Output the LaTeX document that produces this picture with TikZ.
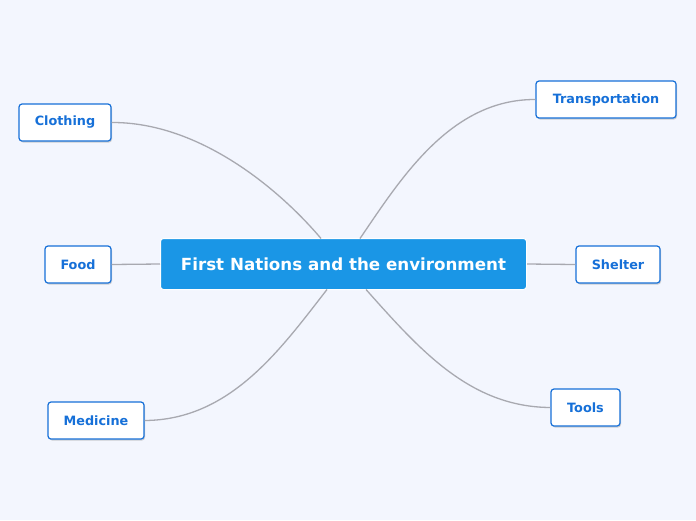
\documentclass[tikz,border=0pt]{standalone}
\usepackage{fontspec}
\setmainfont{DejaVu Sans}
\usetikzlibrary{shadows}
\definecolor{bgpale}{HTML}{F3F6FE}
\definecolor{topicblue}{HTML}{1A96E6}
\definecolor{leafblue}{HTML}{1670D8}
\definecolor{linkgrey}{HTML}{A8A9B0}
\begin{document}
\begin{tikzpicture}[x=1pt,y=-1pt]
\tikzset{
  topic/.style={fill=topicblue, draw=white, line width=1pt, rounded corners=3pt, text=white,
    font=\bfseries\fontsize{16.7}{19}\selectfont, minimum width=366, minimum height=51},
  leaf/.style={fill=white, draw=leafblue, line width=1.2pt, rounded corners=3pt, text=leafblue,
    font=\bfseries\fontsize{12.8}{15}\selectfont, minimum height=37, inner xsep=4pt,
    drop shadow={shadow xshift=1pt, shadow yshift=-1.5pt, opacity=0.35}},
  link/.style={draw=linkgrey, line width=1.3pt}
}
\fill[bgpale] (0,0) rectangle (696,520);
\useasboundingbox (0,0) rectangle (696,520);
\node[topic] (root) at (343.5,264) {First Nations and the environment};
\node[leaf, minimum width=92] (clothing) at (65,122.5) {Clothing};
\node[leaf, minimum width=66] (food) at (78,264.5) {Food};
\node[leaf, minimum width=96] (medicine) at (96,420.5) {Medicine};
\node[leaf, minimum width=140] (transport) at (606,99.5) {Transportation};
\node[leaf, minimum width=84] (shelter) at (618,264.5) {Shelter};
\node[leaf, minimum width=69] (tools) at (585.5,407.5) {Tools};
% links
\draw[link] (clothing.east) .. controls (200,122) and (280,190) .. (321,238.5);
\draw[link] (transport.west) .. controls (450,99) and (400,180) .. (360,238.5);
\draw[link] (medicine.east) .. controls (230,420) and (280,350) .. (327,289.5);
\draw[link] (tools.west) .. controls (470,407) and (420,350) .. (366,289.5);
\draw[link] (food.east) -- (root.west);
\draw[link] (shelter.west) -- (root.east);
\end{tikzpicture}
\end{document}
